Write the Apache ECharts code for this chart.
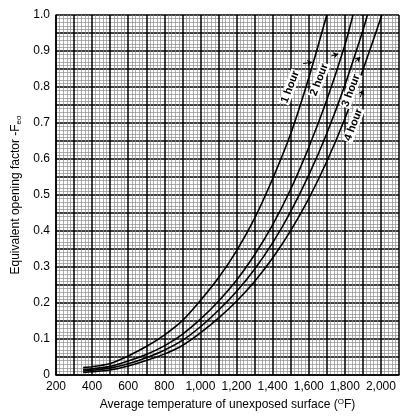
<!DOCTYPE html>
<html>
<head>
<meta charset="utf-8">
<script src="https://cdn.jsdelivr.net/npm/echarts@6/dist/echarts.min.js"></script>
<style>
  html, body { margin: 0; padding: 0; background: #fff; }
  #chart { width: 414px; height: 416px; }
</style>
</head>
<body>
<div id="chart"></div>
<script>
// values (temperature in F, factor 0..1)
var temp1 = [350, 400, 500, 600, 700, 800, 900, 1000, 1100, 1200, 1300, 1400, 1500, 1600, 1700];
var hour1 = [0.021, 0.023, 0.032, 0.053, 0.079, 0.111, 0.151, 0.207, 0.270, 0.345, 0.435, 0.545, 0.670, 0.825, 1.0];

var temp2 = [350, 400, 500, 600, 700, 800, 900, 1000, 1100, 1200, 1300, 1400, 1500, 1600, 1700, 1800, 1845];
var hour2 = [0.015, 0.017, 0.024, 0.039, 0.057, 0.081, 0.113, 0.155, 0.205, 0.263, 0.334, 0.417, 0.516, 0.632, 0.764, 0.916, 1.0];

var temp3 = [350, 400, 500, 600, 700, 800, 900, 1000, 1100, 1200, 1300, 1400, 1500, 1600, 1700, 1800, 1900, 1925];
var hour3 = [0.011, 0.013, 0.019, 0.031, 0.048, 0.069, 0.096, 0.134, 0.180, 0.232, 0.294, 0.367, 0.454, 0.555, 0.671, 0.805, 0.957, 1.0];

var temp4 = [350, 400, 500, 600, 700, 800, 900, 1000, 1100, 1200, 1300, 1400, 1500, 1600, 1700, 1800, 1900, 2005];
var hour4 = [0.007, 0.009, 0.014, 0.025, 0.040, 0.058, 0.082, 0.117, 0.158, 0.205, 0.260, 0.325, 0.401, 0.490, 0.593, 0.712, 0.847, 1.0];

var curveNames = ['1 hour', '2 hour', '3 hour', '4 hour'];
// label centres and leader arrows, in data units
var labelAt = [[1497, 0.80], [1658, 0.82], [1834, 0.79], [1848, 0.695]];
var leaders = [
  [[1569, 0.865], [1619, 0.869]],
  [[1724, 0.886], [1763, 0.892]],
  [[1857, 0.869], [1885, 0.883]],
  [[1885, 0.772], [1902, 0.792]]
];

var FONT = '"Liberation Sans", Arial, sans-serif';

function zip(xs, ys) {
  return xs.map(function (x, i) { return [x, ys[i]]; });
}

var curves = [zip(temp1, hour1), zip(temp2, hour2), zip(temp3, hour3), zip(temp4, hour4)];

var chart = echarts.init(document.getElementById('chart'));

var gridMajor = { show: true, lineStyle: { color: '#000', width: 1.5 } };
var gridMinor = { show: true, lineStyle: { color: '#8c8c8c', width: 0.7 } };

var option = {
  animation: false,
  backgroundColor: '#fff',
  grid: { left: 56, right: 15, top: 15, bottom: 41 },
  xAxis: {
    type: 'value',
    min: 200,
    max: 2100,
    interval: 100,
    name: '{n|Average temperature of unexposed surface (}{sup|O}{n|F)}',
    nameLocation: 'middle',
    nameGap: 23,
    nameTextStyle: {
      rich: {
        n: { fontSize: 12, color: '#000', fontFamily: FONT },
        sup: { fontSize: 8, color: '#000', fontFamily: FONT, verticalAlign: 'top', padding: [0, 0, 6, 0] }
      }
    },
    axisLine: { lineStyle: { color: '#000', width: 1.5 } },
    axisTick: { show: false },
    axisLabel: {
      color: '#000', fontSize: 12, fontFamily: FONT, margin: 6,
      formatter: function (v) {
        if (v % 200 !== 0) return '';
        return v.toString().replace(/\B(?=(\d{3})+(?!\d))/g, ',');
      }
    },
    splitLine: gridMajor,
    minorTick: { show: false, splitNumber: 5 },
    minorSplitLine: gridMinor
  },
  yAxis: {
    type: 'value',
    min: 0,
    max: 1,
    interval: 0.05,
    name: '{n|Equivalent opening factor -F}{sub|eo}',
    nameLocation: 'middle',
    nameGap: 32,
    nameTextStyle: {
      rich: {
        n: { fontSize: 12, color: '#000', fontFamily: FONT },
        sub: { fontSize: 8, color: '#000', fontFamily: FONT, verticalAlign: 'bottom', padding: [6, 0, 0, 0] }
      }
    },
    axisLine: { show: true, lineStyle: { color: '#000', width: 1.5 } },
    axisTick: { show: false },
    axisLabel: {
      color: '#000', fontSize: 12, fontFamily: FONT, margin: 6,
      formatter: function (v) {
        var r = Math.round(v * 100);
        if (r % 10 !== 0) return '';
        return r === 0 ? '0' : (r / 100).toFixed(1);
      }
    },
    splitLine: gridMajor,
    minorTick: { show: false, splitNumber: 5 },
    minorSplitLine: gridMinor
  },
  series: curves.map(function (d, i) {
    return {
      name: curveNames[i],
      type: 'line',
      data: d,
      smooth: 0.25,
      showSymbol: false,
      silent: true,
      lineStyle: { color: '#000', width: 1.6 },
      z: 3,
      markLine: {
        silent: true,
        symbol: ['none', 'arrow'],
        symbolSize: 5,
        label: { show: false },
        lineStyle: { color: '#000', width: 1, type: 'solid' },
        data: [[{ coord: leaders[i][0] }, { coord: leaders[i][1] }]]
      }
    };
  })
};

chart.setOption(option);

// rotated curve labels with a white box, placed through the grid's scales
var graphics = labelAt.map(function (p, i) {
  var px = chart.convertToPixel({ gridIndex: 0 }, p);
  return {
    type: 'text',
    x: px[0],
    y: px[1],
    rotation: 69 * Math.PI / 180,
    z: 10,
    style: {
      text: curveNames[i],
      fontSize: 11,
      fontWeight: 'bold',
      fontFamily: FONT,
      fill: '#000',
      align: 'center',
      verticalAlign: 'middle',
      backgroundColor: '#fff',
      padding: [0, 1]
    }
  };
});

chart.setOption({ graphic: graphics });
</script>
</body>
</html>
